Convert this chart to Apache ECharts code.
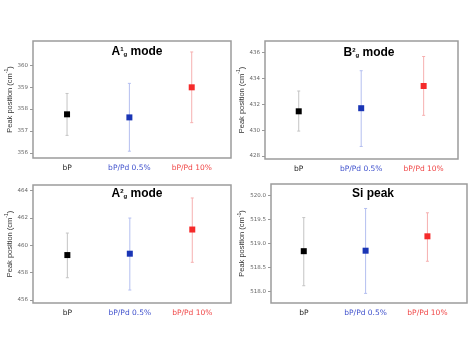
<!DOCTYPE html>
<html><head><meta charset="utf-8">
<script src="https://cdn.jsdelivr.net/npm/echarts@6/dist/echarts.min.js"></script>
<style>html,body{margin:0;padding:0;background:#fff}#c{width:474px;height:360px}</style>
</head><body><div id="c"></div>
<script>
var categories = ['bP', 'bP/Pd 0.5%', 'bP/Pd 10%'];

// A1g mode
var a1gMean = [357.76, 357.62, 358.99];
var a1gLow  = [356.80, 356.08, 357.38];
var a1gHigh = [358.71, 359.17, 360.60];
var a1gTicks = [356, 357, 358, 359, 360];

// B2g mode
var b2gMean = [431.46, 431.70, 433.42];
var b2gLow  = [429.93, 428.74, 431.15];
var b2gHigh = [433.03, 434.60, 435.70];
var b2gTicks = [428, 430, 432, 434, 436];

// A2g mode
var a2gMean = [459.29, 459.39, 461.16];
var a2gLow  = [457.63, 456.73, 458.76];
var a2gHigh = [460.90, 462.00, 463.47];
var a2gTicks = [456, 458, 460, 462, 464];

// Si peak
var siMean = [518.84, 518.85, 519.15];
var siLow  = [518.12, 517.96, 518.63];
var siHigh = [519.54, 519.73, 519.64];
var siTicks = [518.0, 518.5, 519.0, 519.5, 520.0];

var markerColors = ['#000000', '#1a35b5', '#f52a2a'];
var barColors = ['#c4c4c4', '#b4bff0', '#f6b0b0'];
var labelKeys = ['k', 'b', 'r'];

var panels = [
  {title: '{b|A}{sup|1}{sub|g}{b| mode}', mean: a1gMean, low: a1gLow, high: a1gHigh, ticks: a1gTicks,
   grid: {left: 33, top: 41, width: 198, height: 117}, x: [-0.546, 2.63], y: [355.77, 361.1], dec: 0, gap: 16, tx: 132, ty: 40},
  {title: '{b|B}{sup|2}{sub|g}{b| mode}', mean: b2gMean, low: b2gLow, high: b2gHigh, ticks: b2gTicks,
   grid: {left: 265, top: 41, width: 193, height: 118}, x: [-0.54, 2.55], y: [427.77, 436.9], dec: 0, gap: 18, tx: 364, ty: 41},
  {title: '{b|A}{sup|2}{sub|g}{b| mode}', mean: a2gMean, low: a2gLow, high: a2gHigh, ticks: a2gTicks,
   grid: {left: 33, top: 185, width: 198, height: 118}, x: [-0.55, 2.62], y: [455.78, 464.42], dec: 0, gap: 16, tx: 132, ty: 182},
  {title: '{b|Si peak}', mean: siMean, low: siLow, high: siHigh, ticks: siTicks,
   grid: {left: 271, top: 184, width: 196, height: 119}, x: [-0.53, 2.64], y: [517.76, 520.24], dec: 1, gap: 24, tx: 368, ty: 182}
];

var titleRich = {
  b: {fontFamily: 'Liberation Sans', fontWeight: 'bold', fontSize: 12, color: '#000', lineHeight: 14},
  sup: {fontFamily: 'Liberation Sans', fontWeight: 'bold', fontSize: 6, color: '#000', lineHeight: 14, padding: [0, 0, 6, 0]},
  sub: {fontFamily: 'Liberation Sans', fontWeight: 'bold', fontSize: 6, color: '#000', lineHeight: 14, padding: [5, 0, 0, 0]}
};

var option = {
  backgroundColor: '#fff',
  animation: false,
  title: [], grid: [], xAxis: [], yAxis: [], series: []
};

panels.forEach(function (p, i) {
  option.title.push({text: p.title, left: p.tx, top: p.ty, textAlign: 'center',
    textStyle: {rich: titleRich}});
  option.grid.push({left: p.grid.left, top: p.grid.top, width: p.grid.width, height: p.grid.height,
    show: true, borderColor: '#9c9c9c', borderWidth: 1.5, backgroundColor: '#fff'});
  option.xAxis.push({type: 'value', gridIndex: i, min: p.x[0], max: p.x[1], position: 'bottom',
    axisLine: {show: false, onZero: false}, axisTick: {show: false}, splitLine: {show: false},
    axisLabel: {customValues: [0, 1, 2], margin: 6, fontFamily: 'DejaVu Sans', fontSize: 7.5,
      formatter: function (v) { var k = Math.round(v); return '{' + labelKeys[k] + '|' + categories[k] + '}'; },
      rich: {k: {color: '#222', fontFamily: 'DejaVu Sans', fontSize: 7.5},
             b: {color: '#3d4fcc', fontFamily: 'DejaVu Sans', fontSize: 7.5},
             r: {color: '#f04545', fontFamily: 'DejaVu Sans', fontSize: 7.5}}}});
  option.yAxis.push({type: 'value', gridIndex: i, min: p.y[0], max: p.y[1], position: 'left',
    name: 'Peak position (cm{s|-1})', nameLocation: 'middle', nameRotate: 90, nameGap: p.gap,
    nameTextStyle: {fontFamily: 'Liberation Sans', fontSize: 7.5, color: '#333',
      rich: {s: {fontFamily: 'Liberation Sans', fontSize: 5, color: '#333', padding: [0, 0, 5, 0]}}},
    axisLine: {show: false, onZero: false}, splitLine: {show: false},
    axisTick: {show: true, customValues: p.ticks, length: 3, inside: false, lineStyle: {color: '#999', width: 1}},
    axisLabel: {customValues: p.ticks, margin: 5, fontFamily: 'DejaVu Sans', fontSize: 5.5, color: '#666',
      formatter: (function (d) { return function (v) { return v.toFixed(d); }; })(p.dec)}});
  var errData = p.mean.map(function (m, j) { return [j, p.low[j], p.high[j]]; });
  option.series.push({type: 'custom', xAxisIndex: i, yAxisIndex: i, data: errData,
    encode: {x: 0, y: [1, 2]},
    renderItem: function (params, api) {
      var x = api.value(0);
      var top = api.coord([x, api.value(2)]);
      var bot = api.coord([x, api.value(1)]);
      var c = barColors[params.dataIndex];
      var w = 1.5;
      var st = {stroke: c, lineWidth: 1};
      return {type: 'group', children: [
        {type: 'line', shape: {x1: top[0], y1: top[1], x2: bot[0], y2: bot[1]}, style: st},
        {type: 'line', shape: {x1: top[0] - w, y1: top[1], x2: top[0] + w, y2: top[1]}, style: st},
        {type: 'line', shape: {x1: bot[0] - w, y1: bot[1], x2: bot[0] + w, y2: bot[1]}, style: st}
      ]};
    }, z: 2});
  option.series.push({type: 'scatter', xAxisIndex: i, yAxisIndex: i, symbol: 'rect', symbolSize: 6,
    data: p.mean.map(function (m, j) { return [j, m]; }),
    itemStyle: {opacity: 1, color: function (params) { return markerColors[params.dataIndex]; }}, z: 3});
});

var chart = echarts.init(document.getElementById('c'), null, {renderer: 'canvas'});
chart.setOption(option);
</script>
</body></html>
